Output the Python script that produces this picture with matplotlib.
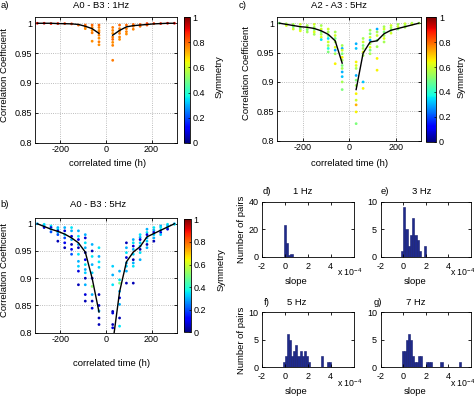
import numpy as np
import matplotlib
matplotlib.use('Agg')
import matplotlib.pyplot as plt
from matplotlib import cm, colors

plt.rcParams['font.family'] = ['Liberation Sans', 'DejaVu Sans']
plt.rcParams['axes.unicode_minus'] = False
plt.rcParams['font.size'] = 6.5
plt.rcParams['mathtext.fontset'] = 'custom'
plt.rcParams['mathtext.rm'] = 'Liberation Sans'

W, H = 474, 397

# ---- data ----
lags = [-300, -270, -240, -210, -180, -150, -120, -90, -60, -30,
        30, 60, 90, 120, 150, 180, 210, 240, 270, 300]
lag_l = [-300, -270, -240, -210, -180, -150, -120, -90, -60, -30]
lag_r = [30, 60, 90, 120, 150, 180, 210, 240, 270, 300]

# a) A0 - B3 : 1Hz
a_cc = [[1.0], [1.0], [0.9995], [0.9995], [0.9995], [0.999], [0.997],
        [0.997, 0.994, 0.991],
        [0.997, 0.993, 0.988, 0.984, 0.970],
        [0.997, 0.993, 0.988, 0.985, 0.980, 0.975, 0.969, 0.964],
        [0.993, 0.988, 0.983, 0.977, 0.973, 0.968, 0.963, 0.938],
        [0.997, 0.991, 0.987, 0.983, 0.977, 0.973],
        [0.997, 0.991, 0.986, 0.982],
        [0.998, 0.995, 0.990],
        [0.998, 0.995], [0.9995, 0.997], [0.9995], [0.9995], [1.0], [1.0]]
a_sym = [[0.9], [0.9], [0.88], [0.88], [0.85], [0.85], [0.8],
         [0.8, 0.78, 0.76],
         [0.8, 0.78, 0.76, 0.78, 0.76],
         [0.8, 0.78, 0.76, 0.78, 0.77, 0.76, 0.78, 0.76],
         [0.78, 0.77, 0.76, 0.78, 0.8, 0.76, 0.77, 0.78],
         [0.8, 0.78, 0.76, 0.78, 0.77, 0.76],
         [0.8, 0.78, 0.77, 0.76],
         [0.8, 0.78, 0.77],
         [0.82, 0.8], [0.85, 0.82], [0.85], [0.88], [0.9], [0.9]]
a_fit_l = [1.0, 1.0, 1.0, 0.9995, 0.9993, 0.999, 0.998, 0.995, 0.991, 0.983]
a_fit_r = [0.980, 0.988, 0.994, 0.996, 0.997, 0.998, 0.999, 0.9995, 1.0, 1.0]

# b) A0 - B3 : 5Hz
b_cc = [[1.0],
        [0.999, 0.996, 0.993],
        [0.996, 0.993, 0.990, 0.985],
        [0.993, 0.990, 0.987, 0.984, 0.980, 0.968],
        [0.993, 0.987, 0.980, 0.974, 0.965, 0.956],
        [0.993, 0.987, 0.977, 0.971, 0.962, 0.953, 0.944],
        [0.987, 0.977, 0.971, 0.962, 0.956, 0.944, 0.931, 0.922, 0.913, 0.888],
        [0.980, 0.974, 0.965, 0.956, 0.947, 0.934, 0.925, 0.916, 0.910, 0.900, 0.888, 0.870, 0.858],
        [0.962, 0.950, 0.940, 0.925, 0.910, 0.900, 0.885, 0.870, 0.858, 0.845],
        [0.956, 0.940, 0.930, 0.920, 0.870, 0.850, 0.840, 0.827, 0.815],
        [0.922, 0.906, 0.888, 0.839, 0.836, 0.815, 0.809],
        [0.913, 0.897, 0.891, 0.876, 0.864, 0.852, 0.827, 0.812],
        [0.965, 0.956, 0.947, 0.938, 0.928, 0.922, 0.913, 0.891],
        [0.971, 0.965, 0.959, 0.953, 0.944, 0.934, 0.928, 0.922, 0.891],
        [0.980, 0.975, 0.971, 0.965, 0.959, 0.953, 0.947, 0.934],
        [0.990, 0.984, 0.980, 0.974, 0.968, 0.962, 0.956],
        [0.993, 0.988, 0.984, 0.980, 0.974, 0.968],
        [0.996, 0.993, 0.988, 0.984, 0.980],
        [0.999, 0.996, 0.993, 0.990],
        [1.0, 0.999]]
b_sym = [[0.3],
         [0.35, 0.3, 0.08],
         [0.35, 0.08, 0.3, 0.2],
         [0.3, 0.35, 0.08, 0.3, 0.2, 0.05],
         [0.3, 0.08, 0.35, 0.2, 0.1, 0.05],
         [0.35, 0.3, 0.08, 0.3, 0.05, 0.1, 0.2],
         [0.3, 0.35, 0.1, 0.3, 0.05, 0.35, 0.3, 0.33, 0.08, 0.05],
         [0.3, 0.08, 0.35, 0.3, 0.05, 0.1, 0.35, 0.3, 0.33, 0.05, 0.3, 0.08, 0.05],
         [0.3, 0.05, 0.35, 0.3, 0.33, 0.08, 0.52, 0.3, 0.05, 0.08],
         [0.35, 0.3, 0.35, 0.33, 0.05, 0.08, 0.3, 0.05, 0.05],
         [0.33, 0.3, 0.35, 0.05, 0.08, 0.05, 0.08],
         [0.3, 0.35, 0.5, 0.3, 0.08, 0.3, 0.05, 0.35],
         [0.05, 0.3, 0.35, 0.08, 0.3, 0.33, 0.3, 0.05],
         [0.3, 0.35, 0.08, 0.3, 0.33, 0.05, 0.3, 0.35, 0.05],
         [0.35, 0.3, 0.08, 0.33, 0.3, 0.05, 0.35, 0.3],
         [0.3, 0.35, 0.08, 0.3, 0.33, 0.05, 0.3],
         [0.35, 0.3, 0.08, 0.33, 0.3, 0.05],
         [0.3, 0.35, 0.3, 0.08, 0.33],
         [0.35, 0.3, 0.33, 0.08],
         [0.3, 0.35]]
b_fit_l = [1.0, 0.995, 0.990, 0.986, 0.981, 0.974, 0.965, 0.948, 0.900, 0.838]
b_fit_r = [0.780, 0.875, 0.930, 0.948, 0.958, 0.976, 0.982, 0.988, 0.994, 1.0]

# c) A2 - A3 : 5Hz
c_cc = [[1.0],
        [0.999, 0.996],
        [0.998, 0.994, 0.990],
        [0.998, 0.993, 0.990, 0.987],
        [0.996, 0.992, 0.989, 0.985],
        [0.998, 0.993, 0.989, 0.985, 0.981],
        [0.996, 0.990, 0.985, 0.981, 0.976, 0.972],
        [0.990, 0.985, 0.979, 0.974, 0.968, 0.962, 0.957, 0.951],
        [0.985, 0.979, 0.974, 0.968, 0.959, 0.954, 0.948, 0.931],
        [0.962, 0.957, 0.954, 0.948, 0.942, 0.937, 0.928, 0.923, 0.917, 0.909, 0.900, 0.887],
        [0.965, 0.957, 0.934, 0.928, 0.923, 0.911, 0.903, 0.894, 0.880, 0.869, 0.861, 0.849, 0.829],
        [0.974, 0.968, 0.962, 0.957, 0.951, 0.945, 0.900, 0.889],
        [0.988, 0.982, 0.976, 0.971, 0.965, 0.959, 0.954, 0.948],
        [0.990, 0.985, 0.979, 0.971, 0.960, 0.940, 0.920],
        [0.994, 0.990, 0.985, 0.979, 0.974, 0.968],
        [0.996, 0.992, 0.988, 0.983],
        [0.998, 0.994, 0.990],
        [0.999, 0.996, 0.993],
        [1.0, 0.998],
        [1.0]]
c_sym = [[0.5],
         [0.55, 0.6],
         [0.55, 0.5, 0.6],
         [0.6, 0.55, 0.5, 0.62],
         [0.55, 0.6, 0.5, 0.55],
         [0.6, 0.55, 0.5, 0.62, 0.55],
         [0.55, 0.6, 0.5, 0.55, 0.62, 0.35],
         [0.6, 0.55, 0.5, 0.35, 0.6, 0.55, 0.38, 0.5],
         [0.55, 0.6, 0.5, 0.55, 0.62, 0.3, 0.55, 0.65],
         [0.55, 0.3, 0.6, 0.5, 0.65, 0.55, 0.5, 0.55, 0.3, 0.32, 0.55, 0.5],
         [0.3, 0.32, 0.65, 0.62, 0.55, 0.3, 0.5, 0.55, 0.65, 0.6, 0.72, 0.65, 0.5],
         [0.55, 0.6, 0.5, 0.55, 0.62, 0.55, 0.32, 0.65],
         [0.55, 0.5, 0.6, 0.3, 0.55, 0.62, 0.5, 0.55],
         [0.3, 0.55, 0.6, 0.5, 0.55, 0.65, 0.65],
         [0.55, 0.6, 0.5, 0.55, 0.62, 0.55],
         [0.6, 0.55, 0.5, 0.6],
         [0.55, 0.6, 0.5],
         [0.6, 0.55, 0.55],
         [0.55, 0.6],
         [0.55]]
c_fit_l = [1.0, 0.998, 0.996, 0.994, 0.993, 0.991, 0.987, 0.981, 0.970, 0.932]
c_fit_r = [0.887, 0.949, 0.968, 0.970, 0.982, 0.988, 0.991, 0.994, 0.997, 1.0]

# slope histograms (slope in units of 1e-4)
d_slope = [0.0, 0.19, 0.38, 0.57]
d_count = [23, 10, 1, 2]
e_slope = [-0.1, 0.1, 0.3, 0.5, 0.7, 0.9, 1.1, 1.3, 1.5, 1.9]
e_count = [1, 9, 5, 2, 4, 7, 4, 3, 1, 2]
f_slope = [-0.1, 0.08, 0.27, 0.45, 0.63, 0.82, 1.0, 1.18, 1.37, 1.55, 1.73,
           1.92, 2.1, 3.2, 3.75, 3.94]
f_count = [1, 2, 6, 5, 2, 3, 4, 2, 3, 2, 3, 2, 1, 2, 1, 1]
g_slope = [-0.03, 0.15, 0.33, 0.51, 0.69, 0.87, 1.05, 1.23, 1.41, 1.59,
           2.13, 2.31, 2.49, 3.39, 5.01]
g_count = [3, 3, 5, 6, 5, 2, 1, 1, 2, 2, 1, 1, 1, 1, 1]

time_ticks = [-200, 0, 200]
cc_ticks = [0.8, 0.85, 0.9, 0.95, 1.0]
cc_labels = ['0.8', '0.85', '0.9', '0.95', '1']
sym_ticks = [0, 0.2, 0.4, 0.6, 0.8, 1.0]
sym_labels = ['0', '0.2', '0.4', '0.6', '0.8', '1']
slope_ticks = [-2, 0, 2, 4]


def box(l, t, r, b):
    return [l / W, 1 - b / H, (r - l) / W, (b - t) / H]


def ftext(x, y, s, **kw):
    kw.setdefault('ha', 'center')
    kw.setdefault('va', 'center')
    fig.text(x / W, 1 - y / H, s, **kw)


def flat(cc, sym):
    xs, ys, zs = [], [], []
    for lag, vals, ss in zip(lags, cc, sym):
        xs += [lag] * len(vals)
        ys += vals
        zs += ss
    return xs, ys, zs


norm = colors.Normalize(0, 1)
cmap = plt.get_cmap('jet')

fig = plt.figure(figsize=(W / 100, H / 100), dpi=100)


def corr_panel(pos, cpos, cc, sym, fit_l, fit_r):
    ax = fig.add_axes(pos)
    xs, ys, zs = flat(cc, sym)
    ax.scatter(xs, ys, c=zs, cmap=cmap, norm=norm, s=4, marker='o',
               linewidths=0, zorder=2)
    ax.plot(lag_l, fit_l, color='k', lw=1.0, zorder=3)
    ax.plot(lag_r, fit_r, color='k', lw=1.0, zorder=3)
    ax.set_xlim(-310, 310)
    ax.set_ylim(0.8, 1.01)
    ax.set_xticks(time_ticks)
    ax.set_yticks(cc_ticks)
    ax.set_yticklabels(cc_labels)
    ax.grid(True, ls=':', color='#a8a8a8', lw=0.6)
    ax.set_axisbelow(True)
    ax.tick_params(direction='in', length=2.5, width=0.6, labelsize=6.5,
                   pad=2, top=True, right=True)
    for sp in ax.spines.values():
        sp.set_linewidth(0.6)
    cax = fig.add_axes(cpos)
    cb = fig.colorbar(cm.ScalarMappable(norm=norm, cmap=cmap), cax=cax,
                      ticks=sym_ticks)
    cb.ax.set_yticklabels(sym_labels)
    cb.ax.tick_params(direction='in', length=1.5, width=0.5, labelsize=6.5,
                      pad=2)
    cb.outline.set_linewidth(0.6)
    return ax


corr_panel(box(35, 17.3, 176.7, 142.7), box(184.3, 17.3, 190, 142.7),
           a_cc, a_sym, a_fit_l, a_fit_r)
corr_panel(box(35, 218.3, 176.7, 332.7), box(184.3, 219.3, 190.7, 332.3),
           b_cc, b_sym, b_fit_l, b_fit_r)
corr_panel(box(277, 17.3, 421.3, 140.7), box(426.3, 17.3, 436.3, 141.7),
           c_cc, c_sym, c_fit_l, c_fit_r)

lab = dict(fontsize=6.8)
ftext(0.5, 6, 'a)', ha='left', **lab)
ftext(101, 6, 'A0 - B3 : 1Hz', **lab)
ftext(5, 75, 'Correlation Coefficient', rotation=90, **lab)
ftext(108, 163, 'correlated time (h)', **lab)
ftext(219, 77, 'Symmetry', rotation=90, **lab)

ftext(0.5, 205, 'b)', ha='left', **lab)
ftext(98, 205, 'A0 - B3 : 5Hz', **lab)
ftext(5, 270, 'Correlation Coefficient', rotation=90, **lab)
ftext(112, 363, 'correlated time (h)', **lab)
ftext(221, 270, 'Symmetry', rotation=90, **lab)

ftext(239, 6, 'c)', ha='left', **lab)
ftext(339, 6, 'A2 - A3 : 5Hz', **lab)
ftext(247, 73, 'Correlation Coefficient', rotation=90, **lab)
ftext(350, 163, 'correlated time (h)', **lab)
ftext(461, 77, 'Symmetry', rotation=90, **lab)


def hist_panel(pos, slope, count, ymax, yticks):
    ax = fig.add_axes(pos)
    ax.bar(slope, count, width=0.19, color='#1f2a8c', edgecolor='#141c6e',
           linewidth=0.4)
    ax.set_xlim(-2, 6)
    ax.set_ylim(0, ymax)
    ax.set_xticks(slope_ticks)
    ax.set_yticks(yticks)
    ax.tick_params(direction='in', length=2.5, width=0.6, labelsize=6.5,
                   top=True, right=True)
    ax.tick_params(axis='x', pad=3.5)
    ax.tick_params(axis='y', pad=2.5)
    for sp in ax.spines.values():
        sp.set_linewidth(0.6)
    return ax


hist_panel(box(262, 201.7, 353.7, 256.7), d_slope, d_count, 40, [0, 20, 40])
hist_panel(box(380.5, 201.7, 471, 256.7), e_slope, e_count, 10, [0, 5, 10])
hist_panel(box(262, 312.3, 353.7, 367.3), f_slope, f_count, 10, [0, 5, 10])
hist_panel(box(380.5, 312.3, 471, 367.3), g_slope, g_count, 10, [0, 5, 10])

# (tag x, row y, tag, title x, title, ylabel y, slope y, slope x, x10 left, x10 y)
hist_txt = [
    (267, 191.7, 'd)', 302.5, '1 Hz', 229, 281, 296, 337, 272.5),
    (385, 191.7, 'e)', 422, '3 Hz', None, 281, 415, 450, 272.5),
    (267, 302.3, 'f)', 297, '5 Hz', 340, 391, 296, 337, 383),
    (377.5, 302.3, 'g)', 416, '7 Hz', None, 391, 415, 450, 383),
]
for px, py, tag, tx, title, ylab_y, sy, sx, ex, ey in hist_txt:
    ftext(px, py, tag, **lab)
    ftext(tx, py, title, **lab)
    if ylab_y is not None:
        ftext(241, ylab_y, 'Number of pairs', rotation=90, **lab)
    ftext(sx, sy, 'slope', **lab)
    ftext(ex, ey, r'x 10$^{\mathregular{-4}}$', ha='left', fontsize=6.3)

fig.savefig('out.png', dpi=100)
